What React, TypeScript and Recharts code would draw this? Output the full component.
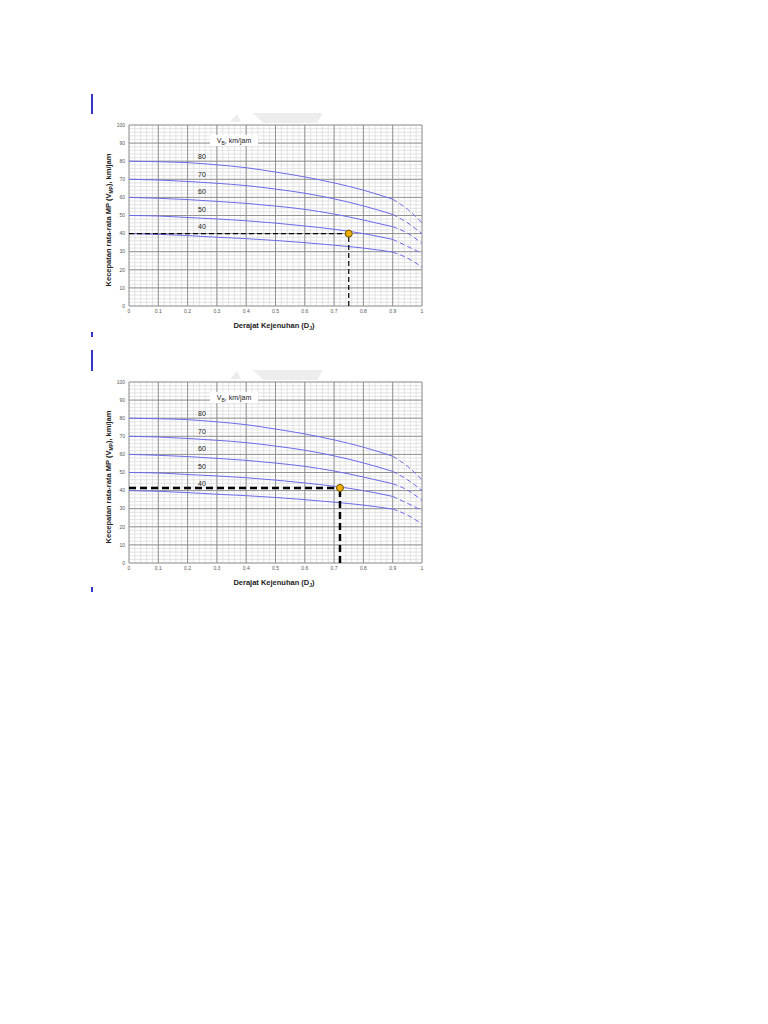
import React from 'react';
import { LineChart, Line, XAxis, YAxis, CartesianGrid, ReferenceLine, ReferenceDot } from 'recharts';

// degree of saturation (x) and speed curves per base speed V_B
const DJ = [0, 0.1, 0.2, 0.3, 0.4, 0.5, 0.6, 0.7, 0.8, 0.9, 0.95, 1.0];
const V80 = [80, 79.7, 79.2, 78.0, 76.4, 74.0, 71.3, 68.0, 64.0, 59.0, 53.5, 46.0];
const V70 = [70, 69.6, 68.8, 67.8, 66.5, 64.6, 62.3, 59.2, 55.3, 50.6, 46.0, 40.0];
const V60 = [60, 59.5, 58.8, 57.8, 56.7, 55.2, 53.4, 50.8, 47.5, 43.8, 40.3, 34.6];
const V50 = [50, 49.7, 48.9, 48.1, 47.1, 45.8, 44.2, 42.4, 40.0, 36.8, 33.0, 29.0];
const V40 = [40, 39.6, 38.9, 38.0, 37.2, 36.2, 35.0, 33.6, 32.0, 29.8, 26.5, 21.5];
const SPEEDS = [80, 70, 60, 50, 40];

const X_TICKS = [0, 0.1, 0.2, 0.3, 0.4, 0.5, 0.6, 0.7, 0.8, 0.9, 1];
const Y_TICKS = [0, 10, 20, 30, 40, 50, 60, 70, 80, 90, 100];
const X_MINOR = Array.from({ length: 51 }, (_, i) => i / 50);
const Y_MINOR = Array.from({ length: 51 }, (_, i) => i * 2);

// read-off points for the two examples
const POINT_1 = { x: 0.75, y: 40 };
const POINT_2 = { x: 0.72, y: 41.5 };

const rows = DJ.map((d, i) => ({ d, v80: V80[i], v70: V70[i], v60: V60[i], v50: V50[i], v40: V40[i] }));
const solidRows = rows.filter(r => r.d <= 0.9);
const dashRows = rows.filter(r => r.d >= 0.9);

const CURVE = '#6b6bec';
const FONT = '"Liberation Sans", Arial, sans-serif';
const tick = { fontSize: 5, fill: '#555', fontFamily: FONT };

interface ChartProps {
  plotTop: number;
  point: { x: number; y: number };
  dashWidth: number;
  dash: string;
}

const SpeedChart: React.FC<ChartProps> = ({ plotTop, point, dashWidth, dash }) => {
  const labelYs = [155.7, 173.7, 190.7, 209.3, 226].map(y => y - 125 + plotTop);
  return (
    <>
      <div style={{ position: 'absolute', left: 90, top: plotTop - 10 }}>
        <LineChart width={350} height={225} margin={{ top: 10, right: 18, left: 19, bottom: 20 }}>
          <XAxis dataKey="d" type="number" domain={[0, 1]} ticks={X_TICKS} height={14}
            axisLine={false} tickLine={false} tickSize={0} tickMargin={3} tick={tick} interval={0} />
          <YAxis type="number" domain={[0, 100]} ticks={Y_TICKS} width={20}
            axisLine={false} tickLine={false} tickSize={0} tickMargin={4} tick={tick} interval={0} />
          {/* fine grid, then the main grid on top */}
          <CartesianGrid verticalValues={X_MINOR} horizontalValues={Y_MINOR} stroke="#dcdcdc" strokeWidth={0.8} />
          <CartesianGrid stroke="#8a8a8a" strokeWidth={0.9} />
          {SPEEDS.map(s => (
            <Line key={`s${s}`} data={solidRows} dataKey={`v${s}`} type="monotone" stroke={CURVE}
              strokeWidth={1} dot={false} isAnimationActive={false} />
          ))}
          {SPEEDS.map(s => (
            <Line key={`d${s}`} data={dashRows} dataKey={`v${s}`} type="monotone" stroke={CURVE}
              strokeWidth={1} strokeDasharray="5 3" dot={false} isAnimationActive={false} />
          ))}
          <ReferenceLine segment={[{ x: 0, y: point.y }, { x: point.x, y: point.y }]}
            stroke="#000" strokeWidth={dashWidth} strokeDasharray={dash} />
          <ReferenceLine segment={[{ x: point.x, y: 0 }, { x: point.x, y: point.y }]}
            stroke="#000" strokeWidth={dashWidth} strokeDasharray={dash} />
          <ReferenceDot x={point.x} y={point.y} r={3.5} fill="#f0b000" stroke="#6e5200" strokeWidth={1} />
        </LineChart>
      </div>
      <div style={{ position: 'absolute', left: 210, top: plotTop + 10, width: 48, height: 11, background: '#fff',
        fontSize: 7, lineHeight: '11px', textAlign: 'center', color: '#222' }}>
        V<sub style={{ fontSize: 5 }}>B</sub>, km/jam
      </div>
      {SPEEDS.map((s, i) => (
        <div key={s} style={{ position: 'absolute', left: 202, top: labelYs[i], transform: 'translate(-50%,-50%)',
          fontSize: 7, color: '#222' }}>{s}</div>
      ))}
      <div style={{ position: 'absolute', left: 109, top: plotTop + 95, transform: 'translate(-50%,-50%) rotate(-90deg)',
        whiteSpace: 'nowrap', fontSize: 7.5, fontWeight: 'bold', color: '#222' }}>
        Kecepatan rata-rata MP (V<sub style={{ fontSize: 5 }}>MP</sub>), km/jam
      </div>
      <div style={{ position: 'absolute', left: 274, top: plotTop + 201, transform: 'translate(-50%,-50%)',
        whiteSpace: 'nowrap', fontSize: 7.5, fontWeight: 'bold', color: '#222' }}>
        Derajat Kejenuhan (D<sub style={{ fontSize: 5 }}>J</sub>)
      </div>
      <svg style={{ position: 'absolute', left: 225, top: plotTop - 13 }} width={105} height={12}>
        <polygon points="5,10 12,2 16,10" fill="#ededed" />
        <polygon points="28,1 98,1 92,11 38,11" fill="#ededed" />
      </svg>
    </>
  );
};

const App: React.FC = () => (
  <div style={{ position: 'absolute', left: 0, top: 0, width: 768, height: 1024, background: '#fff', fontFamily: FONT }}>
    <div style={{ position: 'absolute', left: 91, top: 94, width: 2, height: 20, background: '#3535c8' }} />
    <div style={{ position: 'absolute', left: 91, top: 332, width: 1.5, height: 5, background: '#3535c8' }} />
    <div style={{ position: 'absolute', left: 91, top: 350, width: 2, height: 21, background: '#3535c8' }} />
    <div style={{ position: 'absolute', left: 91, top: 587, width: 1.5, height: 5, background: '#3535c8' }} />
    <SpeedChart plotTop={125} point={POINT_1} dashWidth={1.2} dash="5 3" />
    <SpeedChart plotTop={382} point={POINT_2} dashWidth={2.5} dash="7 4" />
  </div>
);

export default App;
